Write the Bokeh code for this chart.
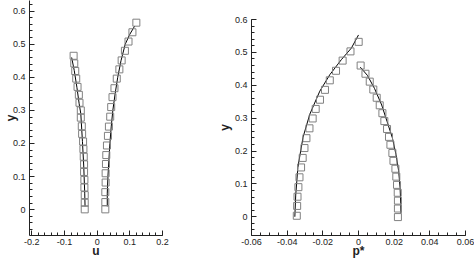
from bokeh.plotting import figure
from bokeh.layouts import row
from bokeh.models import FixedTicker, Range1d
from bokeh.embed import file_html
from bokeh.resources import INLINE

# ---- left panel: u profiles ----
u_sym_left = [-0.072, -0.070, -0.067, -0.064, -0.060, -0.056, -0.054, -0.050, -0.050, -0.047,
              -0.046, -0.043, -0.042, -0.041, -0.040, -0.040, -0.039, -0.039, -0.038, -0.038, -0.038]
y_sym_left = [0.465, 0.442, 0.419, 0.396, 0.371, 0.347, 0.323, 0.300, 0.278, 0.252,
              0.229, 0.206, 0.183, 0.160, 0.137, 0.114, 0.090, 0.067, 0.044, 0.021, 0.001]
u_sym_right = [0.025, 0.025, 0.025, 0.026, 0.026, 0.027, 0.028, 0.030, 0.033, 0.036, 0.040,
               0.043, 0.047, 0.053, 0.060, 0.068, 0.075, 0.085, 0.096, 0.108, 0.120]
y_sym_right = [0.001, 0.023, 0.053, 0.082, 0.110, 0.138, 0.165, 0.194, 0.223, 0.251, 0.281,
               0.310, 0.340, 0.367, 0.396, 0.424, 0.451, 0.480, 0.508, 0.536, 0.565]
u_line_left = [-0.078, -0.070, -0.062, -0.055, -0.050, -0.045, -0.041, -0.038, -0.037]
y_line_left = [0.460, 0.420, 0.370, 0.320, 0.290, 0.206, 0.132, 0.050, 0.010]
u_line_right = [0.031, 0.031, 0.033, 0.036, 0.039, 0.043, 0.048, 0.055, 0.063, 0.073, 0.086, 0.100, 0.115]
y_line_right = [0.010, 0.050, 0.100, 0.150, 0.200, 0.250, 0.300, 0.350, 0.400, 0.450, 0.500, 0.530, 0.555]

# ---- right panel: p* profiles ----
p_sym_left = [-0.0346, -0.0344, -0.0342, -0.0337, -0.0331, -0.0322, -0.0313, -0.0303, -0.0292, -0.0275,
              -0.0257, -0.0240, -0.0216, -0.0188, -0.0161, -0.0126, -0.0089, -0.0045, 0.0001]
yp_sym_left = [0.003, 0.033, 0.061, 0.090, 0.120, 0.150, 0.179, 0.209, 0.239, 0.269,
               0.299, 0.328, 0.356, 0.386, 0.415, 0.444, 0.475, 0.503, 0.532]
p_sym_right = [0.0012, 0.0039, 0.0063, 0.0083, 0.0102, 0.0119, 0.0134, 0.0145, 0.0160, 0.0171,
               0.0179, 0.0190, 0.0196, 0.0207, 0.0212, 0.0216, 0.0220, 0.0221, 0.0221, 0.0221]
yp_sym_right = [0.460, 0.435, 0.411, 0.387, 0.362, 0.339, 0.315, 0.291, 0.267, 0.243,
                0.219, 0.194, 0.170, 0.146, 0.122, 0.097, 0.073, 0.049, 0.025, -0.001]
p_line_left = [-0.0357, -0.0352, -0.0340, -0.0311, -0.0273, -0.0217, -0.0161, -0.0096, -0.0040, 0.0000]
yp_line_left = [0.000, 0.066, 0.150, 0.242, 0.312, 0.382, 0.432, 0.478, 0.513, 0.553]
p_line_right = [0.0010, 0.0050, 0.0090, 0.0130, 0.0160, 0.0190, 0.0210, 0.0225, 0.0233, 0.0237, 0.0238]
yp_line_right = [0.455, 0.430, 0.390, 0.340, 0.290, 0.240, 0.190, 0.140, 0.090, 0.040, 0.010]

# ---- ticks ----
u_ticks = [-0.2, -0.1, 0.0, 0.1, 0.2]
u_tick_labels = ["-0.2", "-0.1", "0", "0.1", "0.2"]
u_minor = [round(-0.2 + 0.02 * i, 2) for i in range(21)]
y1_ticks = [0.0, 0.1, 0.2, 0.3, 0.4, 0.5, 0.6]
y1_tick_labels = ["0", "0.1", "0.2", "0.3", "0.4", "0.5", "0.6"]
y1_minor = [round(-0.06 + 0.02 * i, 2) for i in range(35)]
p_ticks = [-0.06, -0.04, -0.02, 0.0, 0.02, 0.04, 0.06]
p_tick_labels = ["-0.06", "-0.04", "-0.02", "0", "0.02", "0.04", "0.06"]
p_minor = [round(-0.06 + 0.005 * i, 3) for i in range(25)]
y2_minor = [round(-0.04 + 0.02 * i, 2) for i in range(33)]

FONT = "Liberation Sans"
SYM = "#808080"
INK = "#222222"


def style(p, xt, xl, xm, yt, yl, ym, xlabel, x_std, y_std):
    p.xaxis.ticker = FixedTicker(ticks=xt, minor_ticks=xm)
    p.yaxis.ticker = FixedTicker(ticks=yt, minor_ticks=ym)
    p.xaxis.major_label_overrides = dict(zip(xt, xl))
    p.yaxis.major_label_overrides = dict(zip(yt, yl))
    p.xaxis.axis_label = xlabel
    p.yaxis.axis_label = "y"
    for ax in (p.xaxis, p.yaxis):
        ax.axis_line_color = INK
        ax.major_tick_line_color = INK
        ax.minor_tick_line_color = INK
        ax.major_tick_in = 5
        ax.major_tick_out = 0
        ax.minor_tick_in = 3
        ax.minor_tick_out = 0
        ax.major_label_text_font = FONT
        ax.major_label_text_font_size = "9px"
        ax.major_label_text_color = INK
        ax.major_label_text_line_height = 1.0
        ax.axis_label_text_font = FONT
        ax.axis_label_text_font_size = "12px"
        ax.axis_label_text_font_style = "bold"
        ax.axis_label_text_color = INK
        ax.axis_label_text_line_height = 1.0
    p.xaxis.major_label_standoff = 3
    p.yaxis.major_label_standoff = 4
    p.xaxis.axis_label_standoff = x_std
    p.yaxis.axis_label_standoff = y_std
    p.grid.visible = False
    p.outline_line_color = None
    p.background_fill_color = "white"
    p.border_fill_color = "white"


p1 = figure(width=200, height=260, output_backend="svg", toolbar_location=None, title=None,
            frame_align=False,
            x_range=Range1d(-0.207, 0.2), y_range=Range1d(-0.078, 0.632),
            min_border_left=27, min_border_right=38, min_border_top=0, min_border_bottom=22)
style(p1, u_ticks, u_tick_labels, u_minor, y1_ticks, y1_tick_labels, y1_minor, "u", -4, -8)
p1.line(u_line_left, y_line_left, line_color="black", line_width=1)
p1.line(u_line_right, y_line_right, line_color="black", line_width=1)
p1.scatter(u_sym_left, y_sym_left, marker="square", size=7, fill_color=None, line_color=SYM, line_width=1)
p1.scatter(u_sym_right, y_sym_right, marker="square", size=7, fill_color=None, line_color=SYM, line_width=1)

p2 = figure(width=274, height=260, output_backend="svg", toolbar_location=None, title=None,
            frame_align=False,
            x_range=Range1d(-0.06, 0.06), y_range=Range1d(-0.057, 0.6),
            min_border_left=51, min_border_right=9, min_border_top=19, min_border_bottom=22)
style(p2, p_ticks, p_tick_labels, p_minor, y1_ticks, y1_tick_labels, y2_minor, "p*", -4, 0)
p2.line(p_line_left, yp_line_left, line_color="black", line_width=1)
p2.line(p_line_right, yp_line_right, line_color="black", line_width=1)
p2.scatter(p_sym_left, yp_sym_left, marker="square", size=7, fill_color=None, line_color=SYM, line_width=1)
p2.scatter(p_sym_right, yp_sym_right, marker="square", size=7, fill_color=None, line_color=SYM, line_width=1)

layout = row(p1, p2)
open("out.html", "w").write(file_html(layout, INLINE))
